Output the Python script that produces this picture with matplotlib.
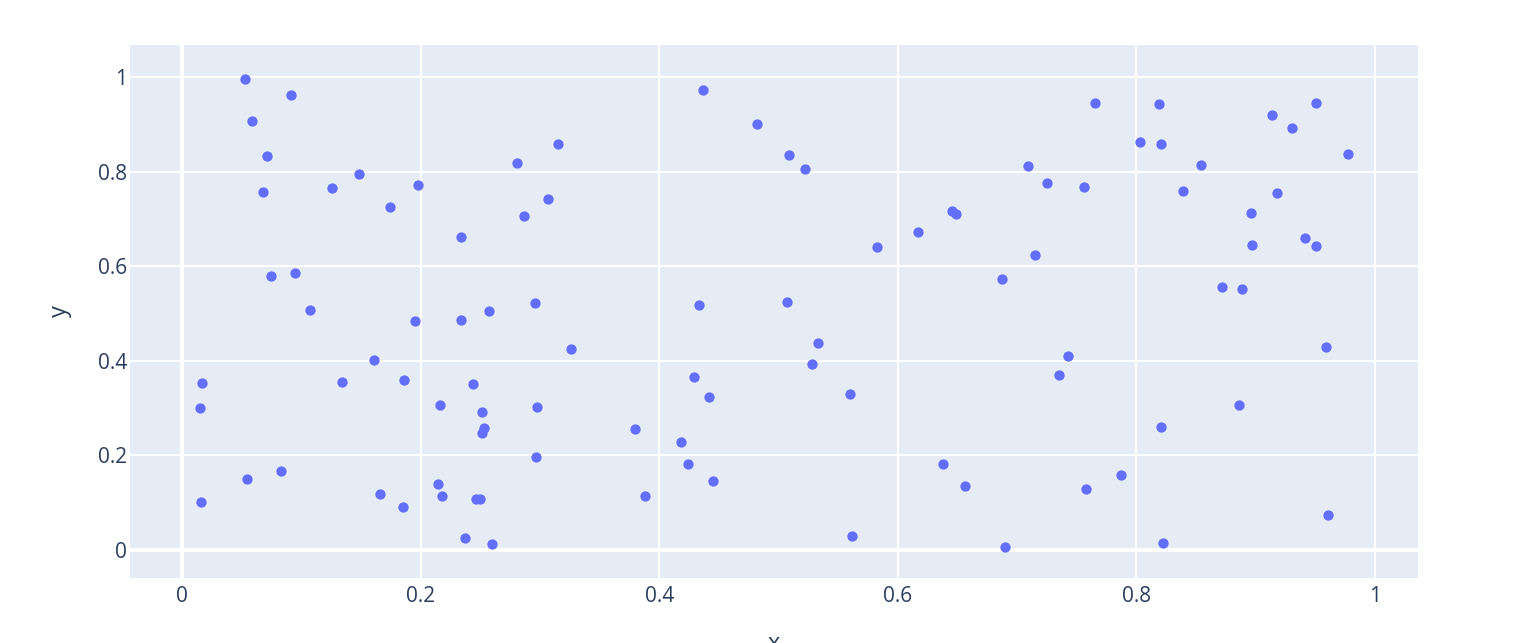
import matplotlib
matplotlib.use("Agg")
import matplotlib.pyplot as plt

plt.rcParams['font.family'] = ['Open Sans', 'DejaVu Sans']

# values
x = [0.053, 0.0917, 0.0584, 0.0713, 0.068, 0.1255, 0.148, 0.174, 0.198, 0.234,
     0.281, 0.315, 0.307, 0.287, 0.0746, 0.095, 0.107, 0.296, 0.257, 0.234,
     0.195, 0.326, 0.161, 0.0168, 0.134, 0.186, 0.244, 0.0148, 0.2165, 0.2517,
     0.2976, 0.253, 0.2515, 0.2965, 0.083, 0.0545, 0.0162, 0.166, 0.185, 0.2143,
     0.218, 0.2464, 0.2498, 0.2375, 0.2598,
     0.4364, 0.482, 0.5085, 0.5225, 0.5826, 0.617, 0.6454, 0.649, 0.4331, 0.507,
     0.533, 0.528, 0.4289, 0.4417, 0.560, 0.3794, 0.418, 0.4244, 0.4448, 0.3878,
     0.5616, 0.638, 0.656,
     0.7656, 0.819, 0.9505, 0.9137, 0.930, 0.8027, 0.8206, 0.977, 0.709, 0.854,
     0.725, 0.756, 0.839, 0.918, 0.896, 0.941, 0.9505, 0.897, 0.715, 0.6876,
     0.872, 0.8885, 0.743, 0.735, 0.9587, 0.8857, 0.821, 0.787, 0.7575, 0.9606,
     0.690, 0.8226]
y = [0.995, 0.963, 0.908, 0.834, 0.758, 0.765, 0.795, 0.725, 0.771, 0.662,
     0.818, 0.858, 0.742, 0.707, 0.579, 0.586, 0.507, 0.523, 0.506, 0.487,
     0.485, 0.426, 0.402, 0.354, 0.355, 0.359, 0.352, 0.2995, 0.3066, 0.291,
     0.303, 0.2586, 0.248, 0.1966, 0.168, 0.1494, 0.1015, 0.1177, 0.0916, 0.140,
     0.115, 0.107, 0.107, 0.0247, 0.012,
     0.973, 0.900, 0.836, 0.805, 0.641, 0.672, 0.716, 0.710, 0.519, 0.525,
     0.4376, 0.393, 0.366, 0.3235, 0.3305, 0.255, 0.228, 0.183, 0.146, 0.114,
     0.0296, 0.1825, 0.135,
     0.946, 0.943, 0.946, 0.920, 0.893, 0.8626, 0.859, 0.837, 0.811, 0.814,
     0.775, 0.768, 0.760, 0.7548, 0.713, 0.660, 0.643, 0.645, 0.624, 0.574,
     0.556, 0.551, 0.410, 0.370, 0.429, 0.3066, 0.260, 0.158, 0.129, 0.074,
     0.0063, 0.016]
xticks = [0, 0.2, 0.4, 0.6, 0.8, 1]
xlabels = ['0', '0.2', '0.4', '0.6', '0.8', '1']
yticks = [0, 0.2, 0.4, 0.6, 0.8, 1]
ylabels = ['0', '0.2', '0.4', '0.6', '0.8', '1']

fig = plt.figure(figsize=(15.36, 6.43), dpi=100)
ax = fig.add_axes([130/1536, 1 - 578/643, 1288/1536, 533/643])
ax.set_facecolor('#E5ECF6')

ax.scatter(x, y, s=55, color='#636EFA', linewidths=0, zorder=3)

ax.set_xlim(-0.0436, 1.036)
ax.set_ylim(-0.059, 1.0677)
ax.set_xticks(xticks)
ax.set_xticklabels(xlabels)
ax.set_yticks(yticks)
ax.set_yticklabels(ylabels)
ax.grid(True, color='white', linewidth=1.5, zorder=1)
ax.axhline(0, color='white', linewidth=2.8, zorder=2)
ax.axvline(0, color='white', linewidth=2.8, zorder=2)
ax.set_axisbelow(True)
for sp in ax.spines.values():
    sp.set_visible(False)
ax.tick_params(length=0, labelsize=15, labelcolor='#2a3f5f')
ax.tick_params(axis='x', pad=6)
ax.tick_params(axis='y', pad=2)

ax.set_xlabel('x', fontsize=17, color='#2a3f5f', labelpad=18)
ax.set_ylabel('y', fontsize=17, color='#2a3f5f', labelpad=19)

fig.savefig('out.png', dpi=100)
